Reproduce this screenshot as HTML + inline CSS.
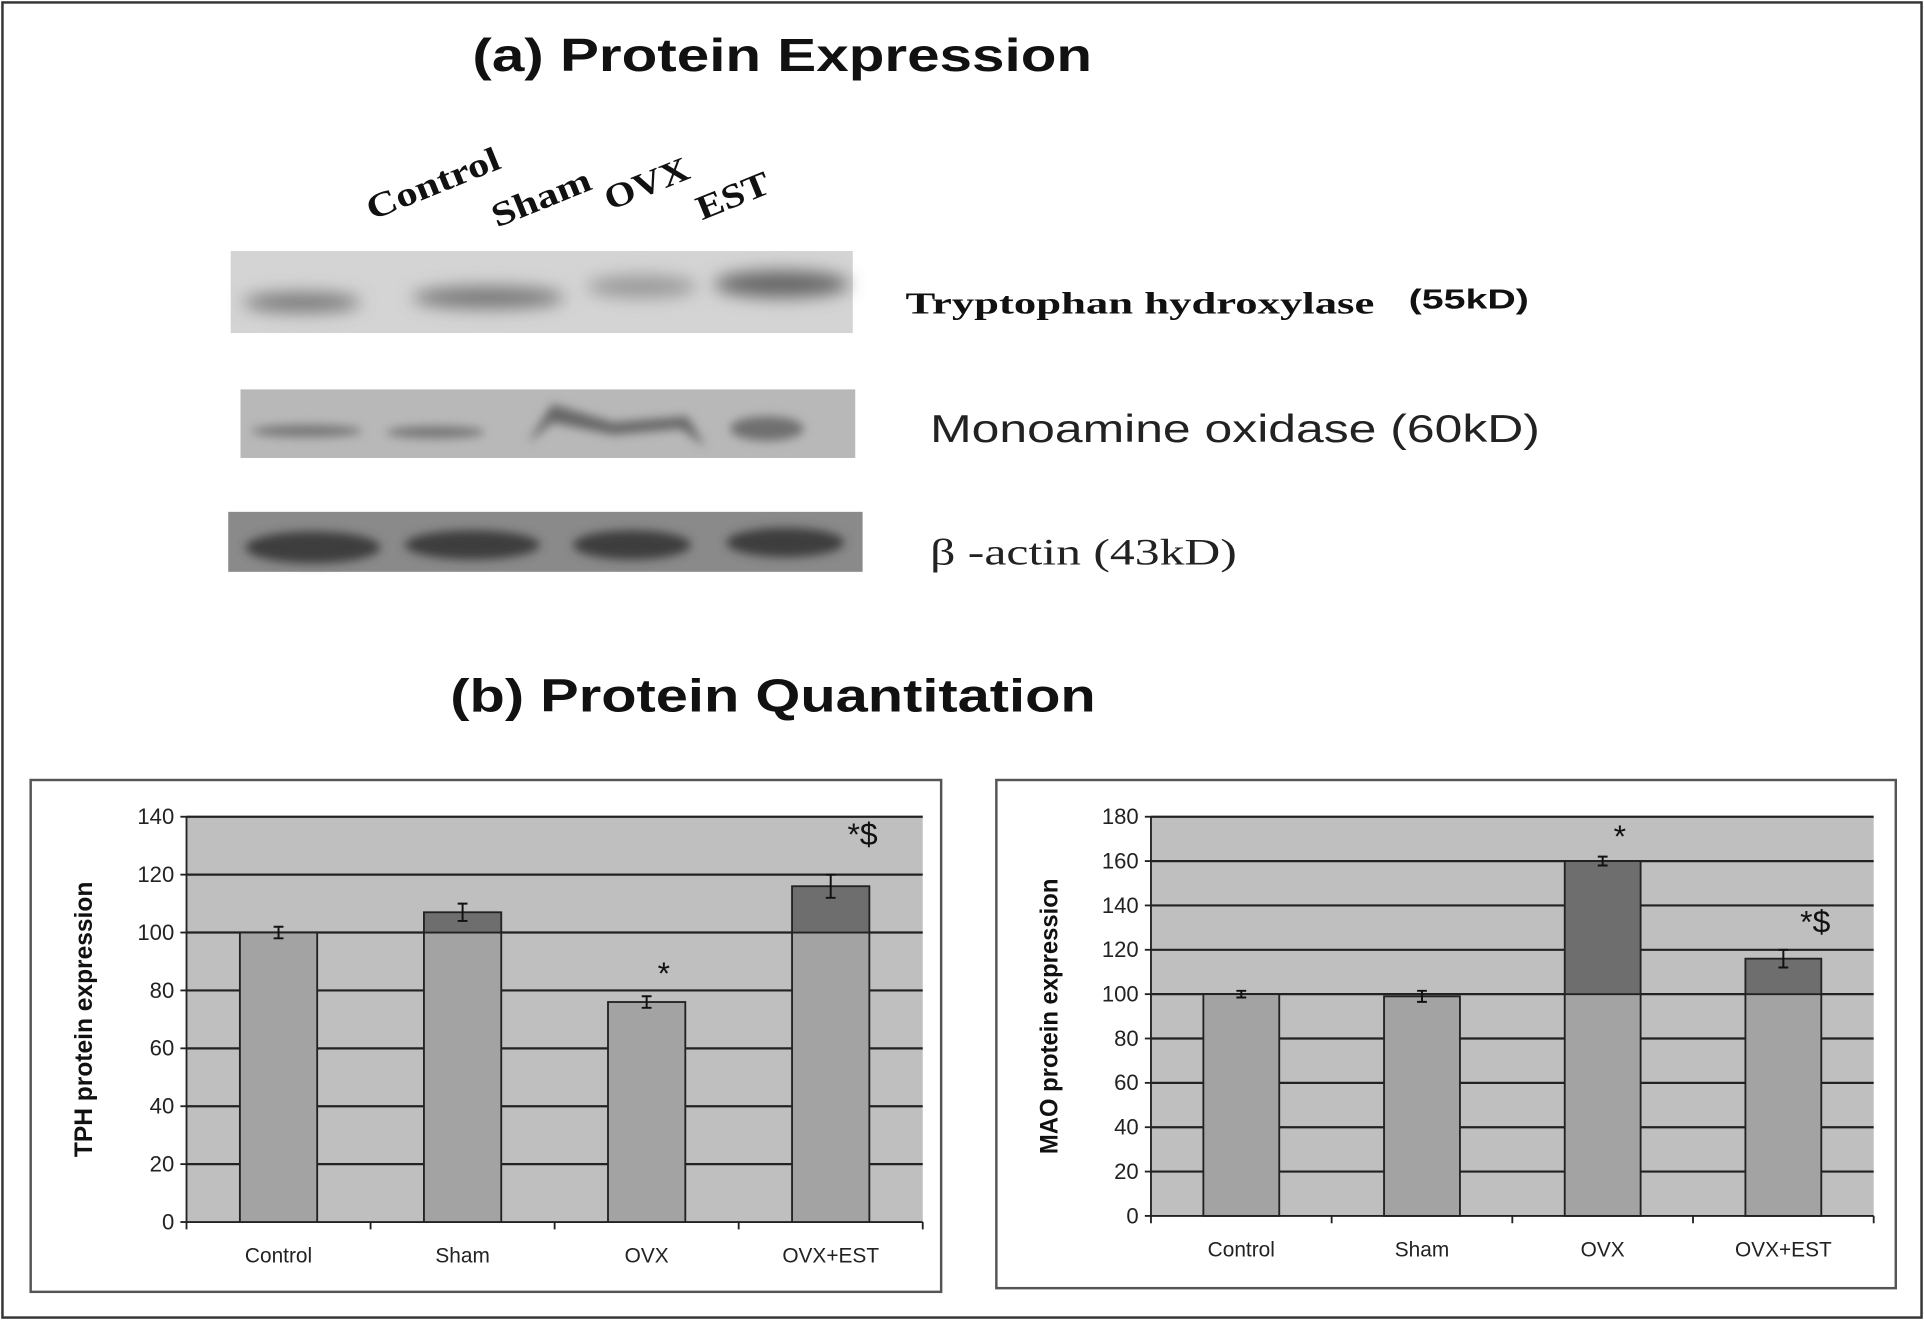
<!DOCTYPE html>
<html><head><meta charset="utf-8"><style>
html,body{margin:0;padding:0;background:#fff;}
svg{display:block;}
</style></head><body>
<svg id="fig" width="1924" height="1320" viewBox="0 0 1568 1078" preserveAspectRatio="none" xmlns="http://www.w3.org/2000/svg">
<defs>
<filter id="blur" x="-20%" y="-50%" width="140%" height="200%"><feGaussianBlur stdDeviation="7"/></filter>
<filter id="blur2" x="-20%" y="-50%" width="140%" height="200%"><feGaussianBlur stdDeviation="4"/></filter>
</defs>
<rect x="2" y="2" width="1564" height="1074" fill="#fff" stroke="#333" stroke-width="2"/>
<text x="385" y="58" textLength="505" lengthAdjust="spacingAndGlyphs" font-family="Liberation Sans, sans-serif" font-weight="bold" font-size="38" fill="#111">(a) Protein Expression</text>
<g font-family="Liberation Serif, serif" font-weight="bold" font-size="28" fill="#111">
<text transform="translate(303,180) rotate(-22)" textLength="115" lengthAdjust="spacingAndGlyphs">Control</text>
<text transform="translate(405,186) rotate(-22)" textLength="85" lengthAdjust="spacingAndGlyphs">Sham</text>
<text transform="translate(497,172) rotate(-22)" textLength="72" lengthAdjust="spacingAndGlyphs">OVX</text>
<text transform="translate(572,180) rotate(-22)" textLength="62" lengthAdjust="spacingAndGlyphs">EST</text>
</g>
<g>
<rect x="188" y="205" width="507" height="67" fill="#d4d4d4"/>
<g filter="url(#blur)" fill="#777"><ellipse cx="246" cy="247" rx="48" ry="8"/><ellipse cx="398" cy="243" rx="62" ry="9"/><ellipse cx="523" cy="234" rx="45" ry="9" fill="#999"/><ellipse cx="637" cy="232" rx="55" ry="11" fill="#666"/></g>
</g>
<g>
<rect x="196" y="318" width="501" height="56" fill="#b8b8b8"/>
<g filter="url(#blur2)" fill="#777"><ellipse cx="250" cy="352" rx="45" ry="5"/><ellipse cx="355" cy="353" rx="40" ry="5"/><path d="M430 362 L450 330 L500 345 L560 340 L575 365 L555 350 L500 355 L450 345 Z" fill="#666"/><ellipse cx="625" cy="350" rx="30" ry="10" fill="#707070"/></g>
</g>
<g>
<rect x="186" y="418" width="517" height="49" fill="#8a8a8a"/>
<g filter="url(#blur2)" fill="#3e3e3e"><ellipse cx="255" cy="447" rx="55" ry="13"/><ellipse cx="385" cy="445" rx="55" ry="12"/><ellipse cx="515" cy="445" rx="48" ry="12"/><ellipse cx="640" cy="443" rx="48" ry="12"/></g>
</g>
<text x="738" y="256" textLength="382" lengthAdjust="spacingAndGlyphs" font-family="Liberation Serif, serif" font-weight="bold" font-size="25" fill="#111">Tryptophan hydroxylase</text>
<text x="1148" y="252" textLength="98" lengthAdjust="spacingAndGlyphs" font-family="Liberation Sans, sans-serif" font-weight="bold" font-size="23" fill="#111">(55kD)</text>
<text x="758" y="361" textLength="497" lengthAdjust="spacingAndGlyphs" font-family="Liberation Sans, sans-serif" font-size="32" fill="#222">Monoamine oxidase (60kD)</text>
<text x="758" y="461" textLength="250" lengthAdjust="spacingAndGlyphs" font-family="Liberation Serif, serif" font-size="30" fill="#222">β -actin (43kD)</text>
<text x="367" y="581" textLength="526" lengthAdjust="spacingAndGlyphs" font-family="Liberation Sans, sans-serif" font-weight="bold" font-size="38" fill="#111">(b) Protein Quantitation</text>
<g id="chartL"></g>
<g id="chartR"></g>
</svg>
<script>
const categories = ["Control","Sham","OVX","OVX+EST"];
const tphValues = [100,107,76,116];
const tphErrors = [2,3,2,4];
const tphMarks = ["","","*","*$"];
const tphTicks = [0,20,40,60,80,100,120,140];
const maoValues = [100,99,160,116];
const maoErrors = [1.5,2.5,2,4];
const maoMarks = ["","","*","*$"];
const maoTicks = [0,20,40,60,80,100,120,140,160,180];
const NS="http://www.w3.org/2000/svg";
function mk(parent,tag,attrs){const e=document.createElementNS(NS,tag);for(const k in attrs)e.setAttribute(k,attrs[k]);parent.appendChild(e);return e;}
function drawChart(g,cfg){
  const box=mk(g,'rect',{x:cfg.bx,y:cfg.by,width:cfg.bw,height:cfg.bh,fill:'#fff',stroke:'#555','stroke-width':2});
  
  
  const x0=cfg.px,x1=cfg.px+cfg.pw,yTop=cfg.py,yBot=cfg.py+cfg.ph;
  const maxV=cfg.ticks[cfg.ticks.length-1];
  const y=v=>yBot-(v/maxV)*cfg.ph;
  const catW=cfg.pw/cfg.cats.length;
  const xc=i=>x0+catW*(i+0.5);
  const bg=mk(g,'rect',{x:x0,y:yTop,width:cfg.pw,height:cfg.ph,fill:'#bfbfbf'});
  
  
  cfg.ticks.forEach(t=>{
    if(t>0){const l=mk(g,'line',{x1:x0,x2:x1,y1:y(t),y2:y(t),stroke:'#222','stroke-width':1.8});
      
      }
    mk(g,'line',{x1:x0-5,x2:x0,y1:y(t),y2:y(t),stroke:'#222','stroke-width':1.5});
    const tl=mk(g,'text',{x:x0-10,y:y(t)+6,'text-anchor':'end','font-family':'Liberation Sans, sans-serif','font-size':18,fill:'#222'});
    tl.textContent=t;
    
    
  });
  mk(g,'line',{x1:x0,x2:x0,y1:yTop,y2:yBot,stroke:'#222','stroke-width':1.5});
  mk(g,'line',{x1:x0,x2:x1,y1:yBot,y2:yBot,stroke:'#222','stroke-width':1.5});
  for(let i=0;i<=cfg.cats.length;i++) mk(g,'line',{x1:x0+catW*i,x2:x0+catW*i,y1:yBot,y2:yBot+6,stroke:'#222','stroke-width':1.5});
  const bw=catW*0.42;
  cfg.vals.forEach((v,i)=>{
    const low=Math.min(v,100);
    const b=mk(g,'rect',{x:xc(i)-bw/2,y:y(low),width:bw,height:yBot-y(low),fill:'#a3a3a3',stroke:'#222','stroke-width':1.5});
    
    
    if(v>100){const t=mk(g,'rect',{x:xc(i)-bw/2,y:y(v),width:bw,height:y(100)-y(v),fill:'#6e6e6e',stroke:'#222','stroke-width':1.5});
      
      }
    const e=cfg.errs[i];
    const eb=mk(g,'path',{d:`M${xc(i)} ${y(v+e)}V${y(v-e)}M${xc(i)-4} ${y(v+e)}H${xc(i)+4}M${xc(i)-4} ${y(v-e)}H${xc(i)+4}`,stroke:'#111','stroke-width':1.6,fill:'none'});
    
    
    if(cfg.marks[i]){const m=mk(g,'text',{x:xc(i)+(cfg.marks[i].length>1?26:14),y:y(v+e)-(cfg.marks[i].length>1?cfg.markOff2:cfg.markOff),'text-anchor':'middle','font-family':'Liberation Sans, sans-serif','font-size':26,fill:'#111'});
      m.textContent=cfg.marks[i];
      
      }
    const cl=mk(g,'text',{x:xc(i),y:yBot+33,'text-anchor':'middle','font-family':'Liberation Sans, sans-serif','font-size':17,fill:'#222'});
    cl.textContent=cfg.cats[i];
    
    
  });
  const yt=mk(g,'text',{transform:`translate(${cfg.bx+50},${(yTop+yBot)/2}) rotate(-90)`,'text-anchor':'middle','font-family':'Liberation Sans, sans-serif','font-weight':'bold','font-size':20,textLength:225,lengthAdjust:'spacingAndGlyphs',fill:'#111'});
  yt.textContent=cfg.title;
  
  
}
drawChart(document.getElementById('chartL'),{bx:25,by:637,bw:742,bh:418,px:152,py:667,pw:600,ph:331,ticks:tphTicks,vals:tphValues,errs:tphErrors,marks:tphMarks,cats:categories,title:'TPH protein expression',markOff:10,markOff2:24});
drawChart(document.getElementById('chartR'),{bx:812,by:637,bw:733,bh:415,px:938,py:667,pw:589,ph:326,ticks:maoTicks,vals:maoValues,errs:maoErrors,marks:maoMarks,cats:categories,title:'MAO protein expression',markOff:8,markOff2:14});
</script>
</body></html>
